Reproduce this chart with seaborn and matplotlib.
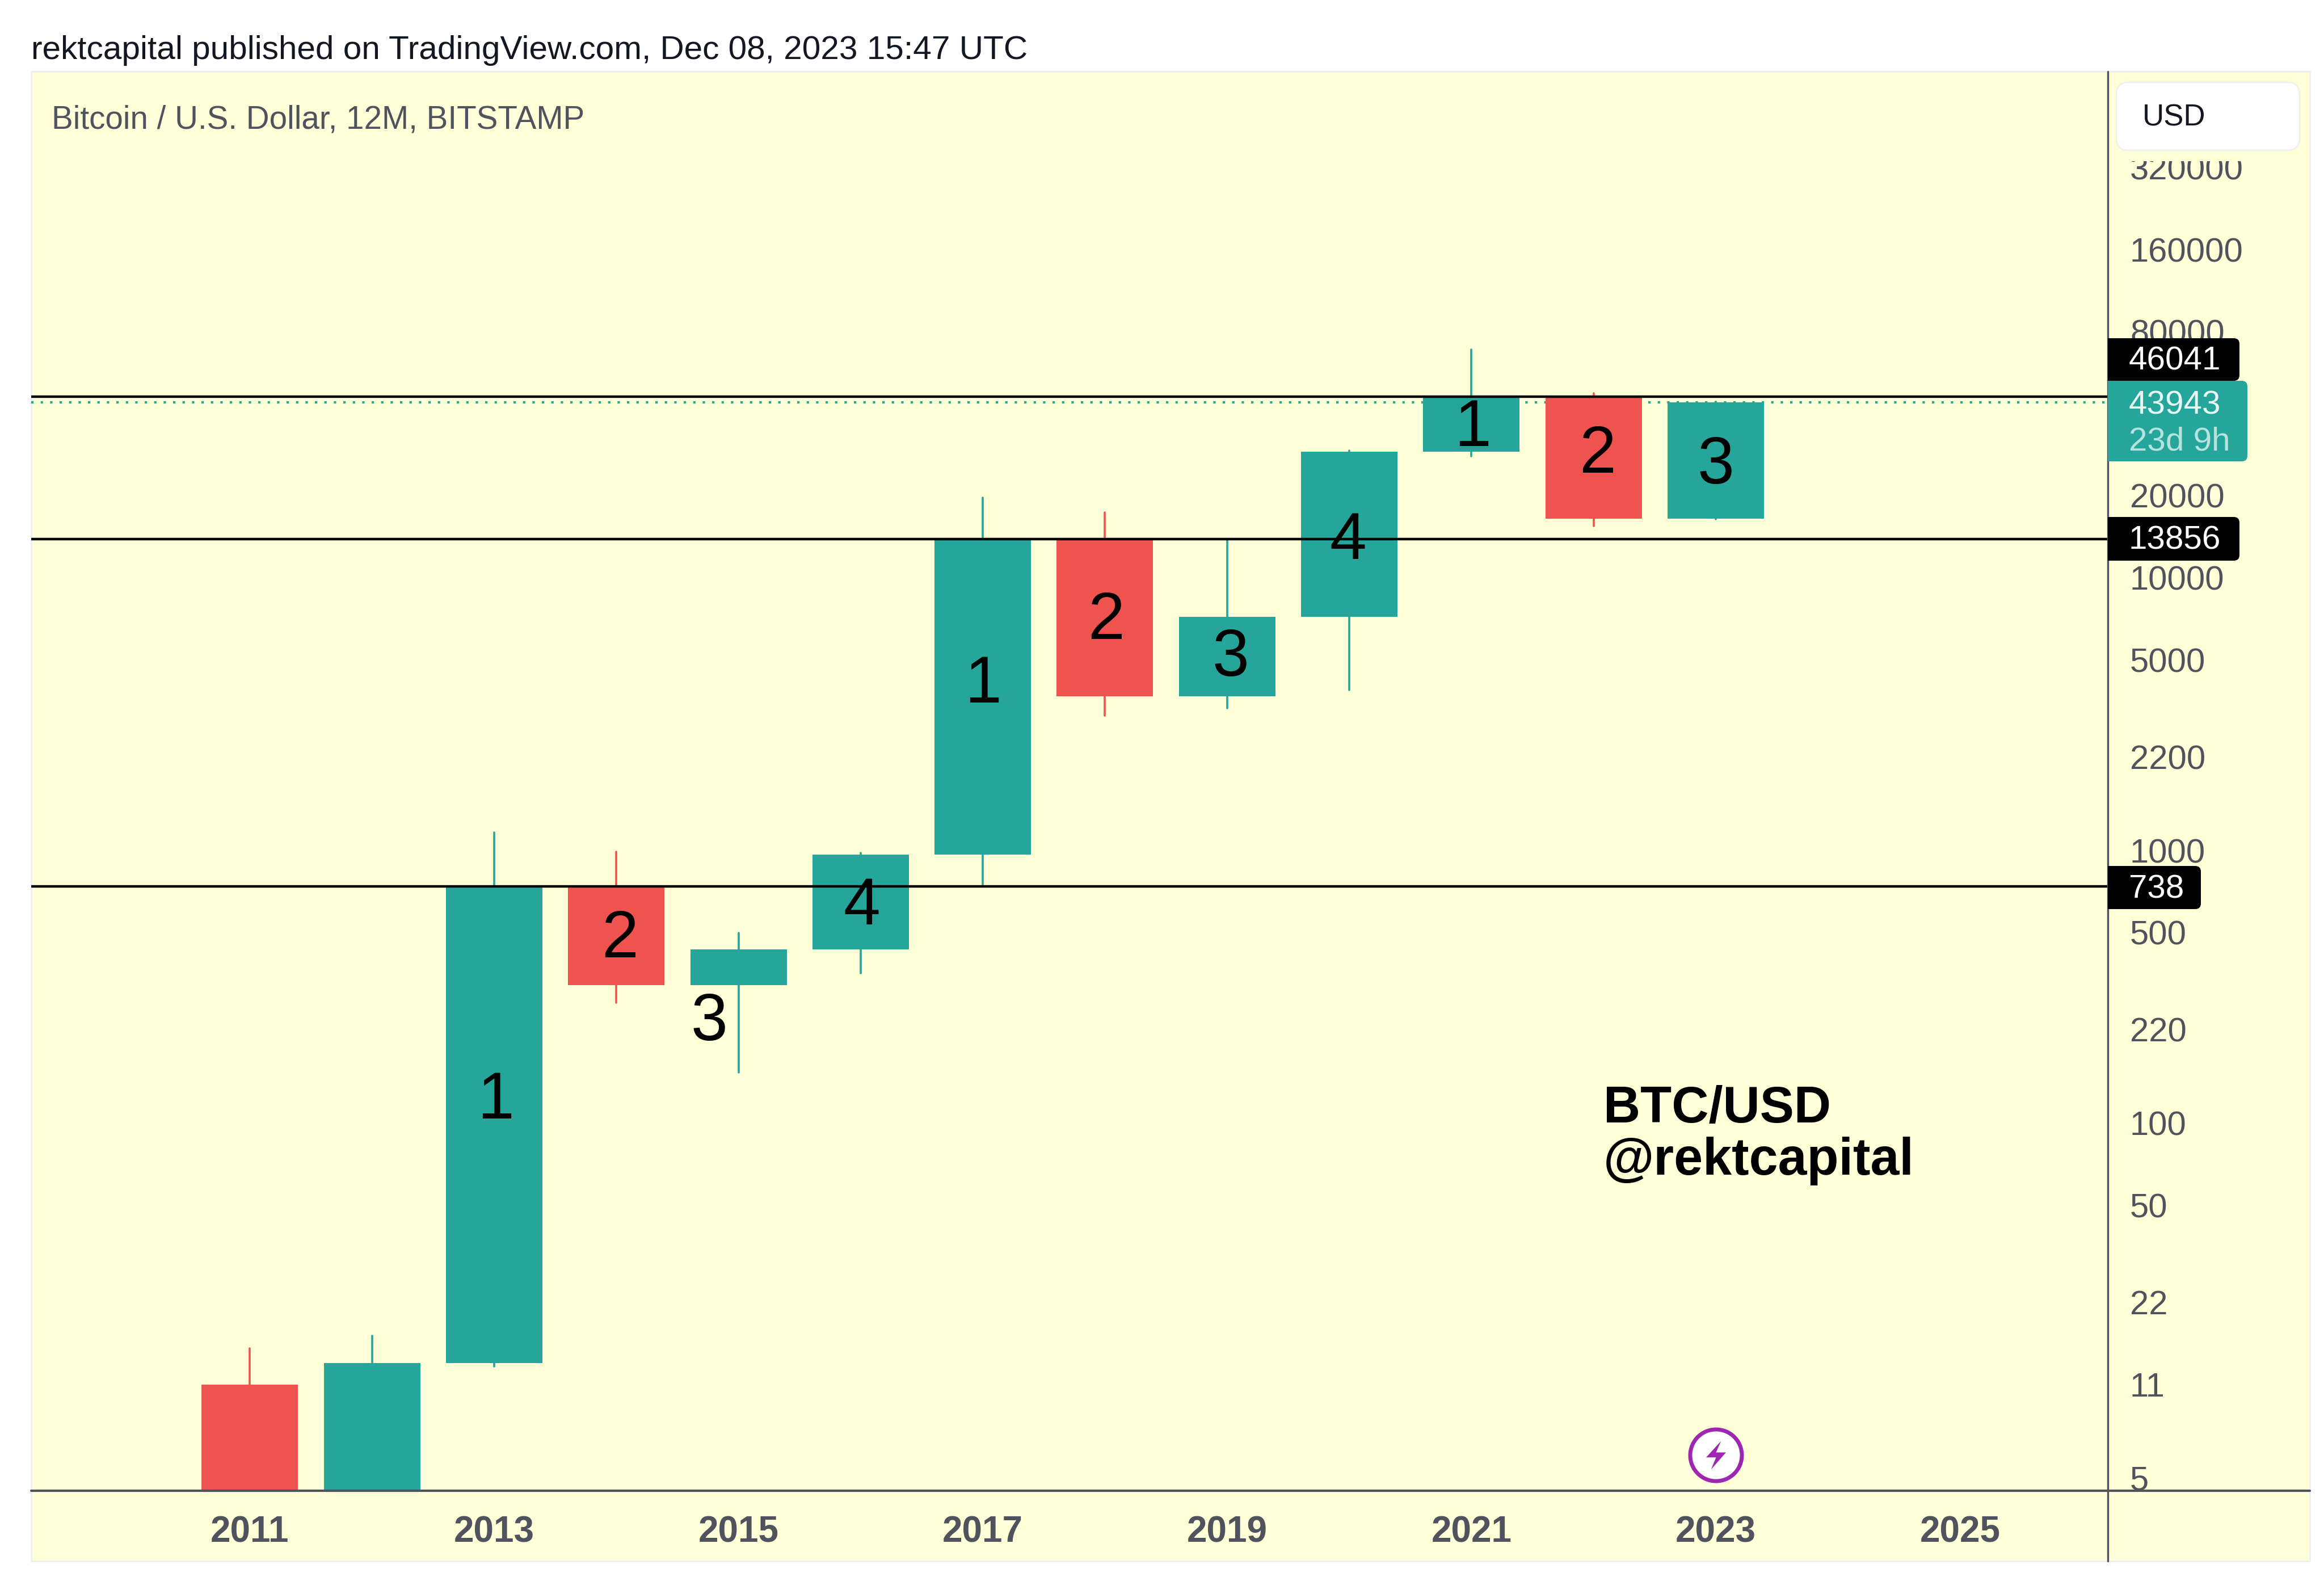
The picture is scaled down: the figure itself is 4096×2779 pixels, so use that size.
import pandas as pd
import matplotlib
matplotlib.use("Agg")
import matplotlib.pyplot as plt
import matplotlib.transforms as mtransforms
from matplotlib.lines import Line2D
from matplotlib.patches import FancyBboxPatch, Rectangle
import seaborn as sns

# Yearly candles (2011 and 2012 run below the chart floor)
years = [2011, 2012, 2013, 2014, 2015, 2016, 2017, 2018, 2019, 2020, 2021, 2022, 2023]
opens = [11, 4.2, 13.2, 738, 320, 433, 964, 13856, 3682, 7176, 28960, 46041, 16494]
highs = [14.9, 16.6, 1162, 988, 497, 980, 19666, 17340, 13800, 29300, 68660, 47600, 44200]
lows = [2, 3, 12.8, 276, 153, 354, 749, 3122, 3323, 3865, 27900, 15496, 16400]
closes = [4.2, 13.2, 738, 320, 433, 964, 13856, 3682, 7176, 28960, 46041, 16494, 43943]

# Price axis
price_ticks = [5, 11, 22, 50, 100, 220, 500, 1000, 2200, 5000, 10000, 20000, 80000, 160000, 320000]
year_ticks = [2011, 2013, 2015, 2017, 2019, 2021, 2023, 2025]

# Horizontal levels drawn on the chart
levels = [46041, 13856, 738]
last_price = 43943
countdown = "23d 9h"

# Hand written cycle numbers
note_labels = ["1", "2", "3", "4", "1", "2", "3", "4", "1", "2", "3"]
note_years = [2013.01, 2014.03, 2014.76, 2016.01, 2017.0, 2018.01, 2019.03, 2019.99, 2021.01, 2022.03, 2023.0]
note_prices = [120, 469, 233, 618, 4037, 6915, 5055, 13590, 35160, 28040, 25680]

UP = "#26a69a"
DOWN = "#ef5350"
PANEL = "#ffffd8"
GREY = "#50535e"
INK = "#131722"
W, H = 4096, 2779

sns.set_theme(style="white")
plt.rcParams["font.family"] = ["Liberation Sans", "DejaVu Sans"]

df = pd.DataFrame({"year": years, "open": opens, "high": highs, "low": lows, "close": closes})
df["direction"] = ["up" if c >= o else "down" for o, c in zip(df["open"], df["close"])]
df["body_low"] = df[["open", "close"]].min(axis=1)
df["body_size"] = df[["open", "close"]].max(axis=1) - df["body_low"]

wicks = df.melt(id_vars=["year", "direction"], value_vars=["low", "high"], value_name="price")

fig = plt.figure(figsize=(W / 100, H / 100), dpi=100, facecolor="white")
# pixel coordinates of the screenshot, y going down
px = mtransforms.Affine2D().scale(1 / W, -1 / H).translate(0, 1) + fig.transFigure

fig.add_artist(Rectangle((55, 126), 4016, 2625, transform=px, facecolor=PANEL,
                         edgecolor="#eeeef2", linewidth=2, zorder=-5))

ax = fig.add_axes([55 / W, 1 - 2627 / H, 3660 / W, 2501 / H])
ax.patch.set_visible(False)
ax.set_yscale("log")

# Wicks
sns.lineplot(data=wicks, x="year", y="price", hue="direction", units="year", estimator=None,
             sort=False, palette={"up": UP, "down": DOWN}, linewidth=2.6, legend=False, ax=ax)

# Candle bodies, native_scale multiplies width by the smallest gap between years in the subset
for direction, colour in [("up", UP), ("down", DOWN)]:
    part = df[df["direction"] == direction]
    sns.barplot(data=part, x="year", y="body_size", bottom=part["body_low"].values, native_scale=True,
                width=0.79 / part["year"].diff().min(), color=colour, saturation=1, errorbar=None,
                linewidth=0, ax=ax, zorder=3)

# Levels
for level in levels:
    ax.axhline(level, color="black", linewidth=3.2, zorder=4)
ax.axhline(last_price, color=UP, linewidth=3, linestyle=(0, (1, 3)), zorder=2)

for label, x, y in zip(note_labels, note_years, note_prices):
    ax.text(x, y, label, fontsize=84, color="black", ha="center", va="center", zorder=6)

ax.set_xlim(2009.21, 2026.21)
ax.set_ylim(4.48, 719000)
ax.set_xticks(year_ticks)
ax.set_xticklabels(year_ticks, fontsize=46, fontweight="bold", color=GREY)
ax.yaxis.tick_right()
ax.set_yticks(price_ticks)
ax.set_yticklabels(price_ticks, fontsize=43, color=GREY)
ax.minorticks_off()
ax.tick_params(axis="y", length=0, pad=28)
ax.tick_params(axis="x", length=0, pad=31)
ax.set_xlabel("")
ax.set_ylabel("")
ax.grid(False)
for spine in ax.spines.values():
    spine.set_visible(False)

# Axis rules run past the plot area, out to the panel edges
fig.add_artist(Line2D([55, 4071], [2627, 2627], transform=px, color=GREY, linewidth=3, zorder=2))
fig.add_artist(Line2D([3715, 3715], [126, 2751], transform=px, color=GREY, linewidth=2.4, zorder=2))


def price_tag(x1, y0, y1, colour):
    # square on the axis side, rounded on the other
    fig.add_artist(FancyBboxPatch((3715, y0), x1 - 3715, y1 - y0, boxstyle="round,pad=0,rounding_size=10",
                                  transform=px, facecolor=colour, linewidth=0, zorder=4))
    fig.add_artist(Rectangle((3715, y0), 30, y1 - y0, transform=px, facecolor=colour, linewidth=0, zorder=4))


price_tag(3947, 596, 671, "black")
fig.text(3752, 637, str(levels[0]), transform=px, color="white", fontsize=42, va="center", zorder=5)
price_tag(3961, 671, 813, UP)
fig.text(3752, 714, str(last_price), transform=px, color="#e8f6f4", fontsize=42, va="center", zorder=5)
fig.text(3752, 778, countdown, transform=px, color="#b5e3de", fontsize=42, va="center", zorder=5)
price_tag(3947, 911, 988, "black")
fig.text(3752, 953, str(levels[1]), transform=px, color="white", fontsize=42, va="center", zorder=5)
price_tag(3879, 1526, 1602, "black")
fig.text(3752, 1568, str(levels[2]), transform=px, color="white", fontsize=42, va="center", zorder=5)

# Currency button sits over the top tick label, with a strip of panel colour under it
fig.add_artist(Rectangle((3730, 250), 323, 34, transform=px, facecolor=PANEL, linewidth=0, zorder=4))
fig.add_artist(FancyBboxPatch((3742, 157), 299, 96, boxstyle="round,pad=12,rounding_size=22", transform=px,
                              facecolor="white", edgecolor="#f0f0f0", linewidth=2, zorder=4))
fig.text(3776, 207, "USD", transform=px, color=INK, fontsize=38, va="center", zorder=5)

# Header and legend text
fig.text(55, 89, "rektcapital published on TradingView.com, Dec 08, 2023 15:47 UTC", transform=px,
         color=INK, fontsize=42.1, va="center")
fig.text(91, 212, "Bitcoin / U.S. Dollar, 12M, BITSTAMP", transform=px, color=GREY, fontsize=40.8, va="center")
fig.text(2826, 1955, "BTC/USD", transform=px, color="black", fontsize=65, fontweight="bold", va="center")
fig.text(2826, 2046, "@rektcapital", transform=px, color="black", fontsize=66, fontweight="bold", va="center")

# Dividend style marker on the 2023 candle
ax.scatter([2023], [6.07], s=4300, facecolor="white", edgecolor="#9c27b0", linewidth=5, zorder=6, clip_on=False)
bolt = [(0.35, 1), (-0.7, -0.15), (0.0, -0.15), (-0.35, -1), (0.7, 0.2), (0.0, 0.2)]
ax.scatter([2023], [6.07], s=1300, marker=bolt, color="#9c27b0", linewidth=0, zorder=7, clip_on=False)

fig.savefig("out.png", dpi=100)
